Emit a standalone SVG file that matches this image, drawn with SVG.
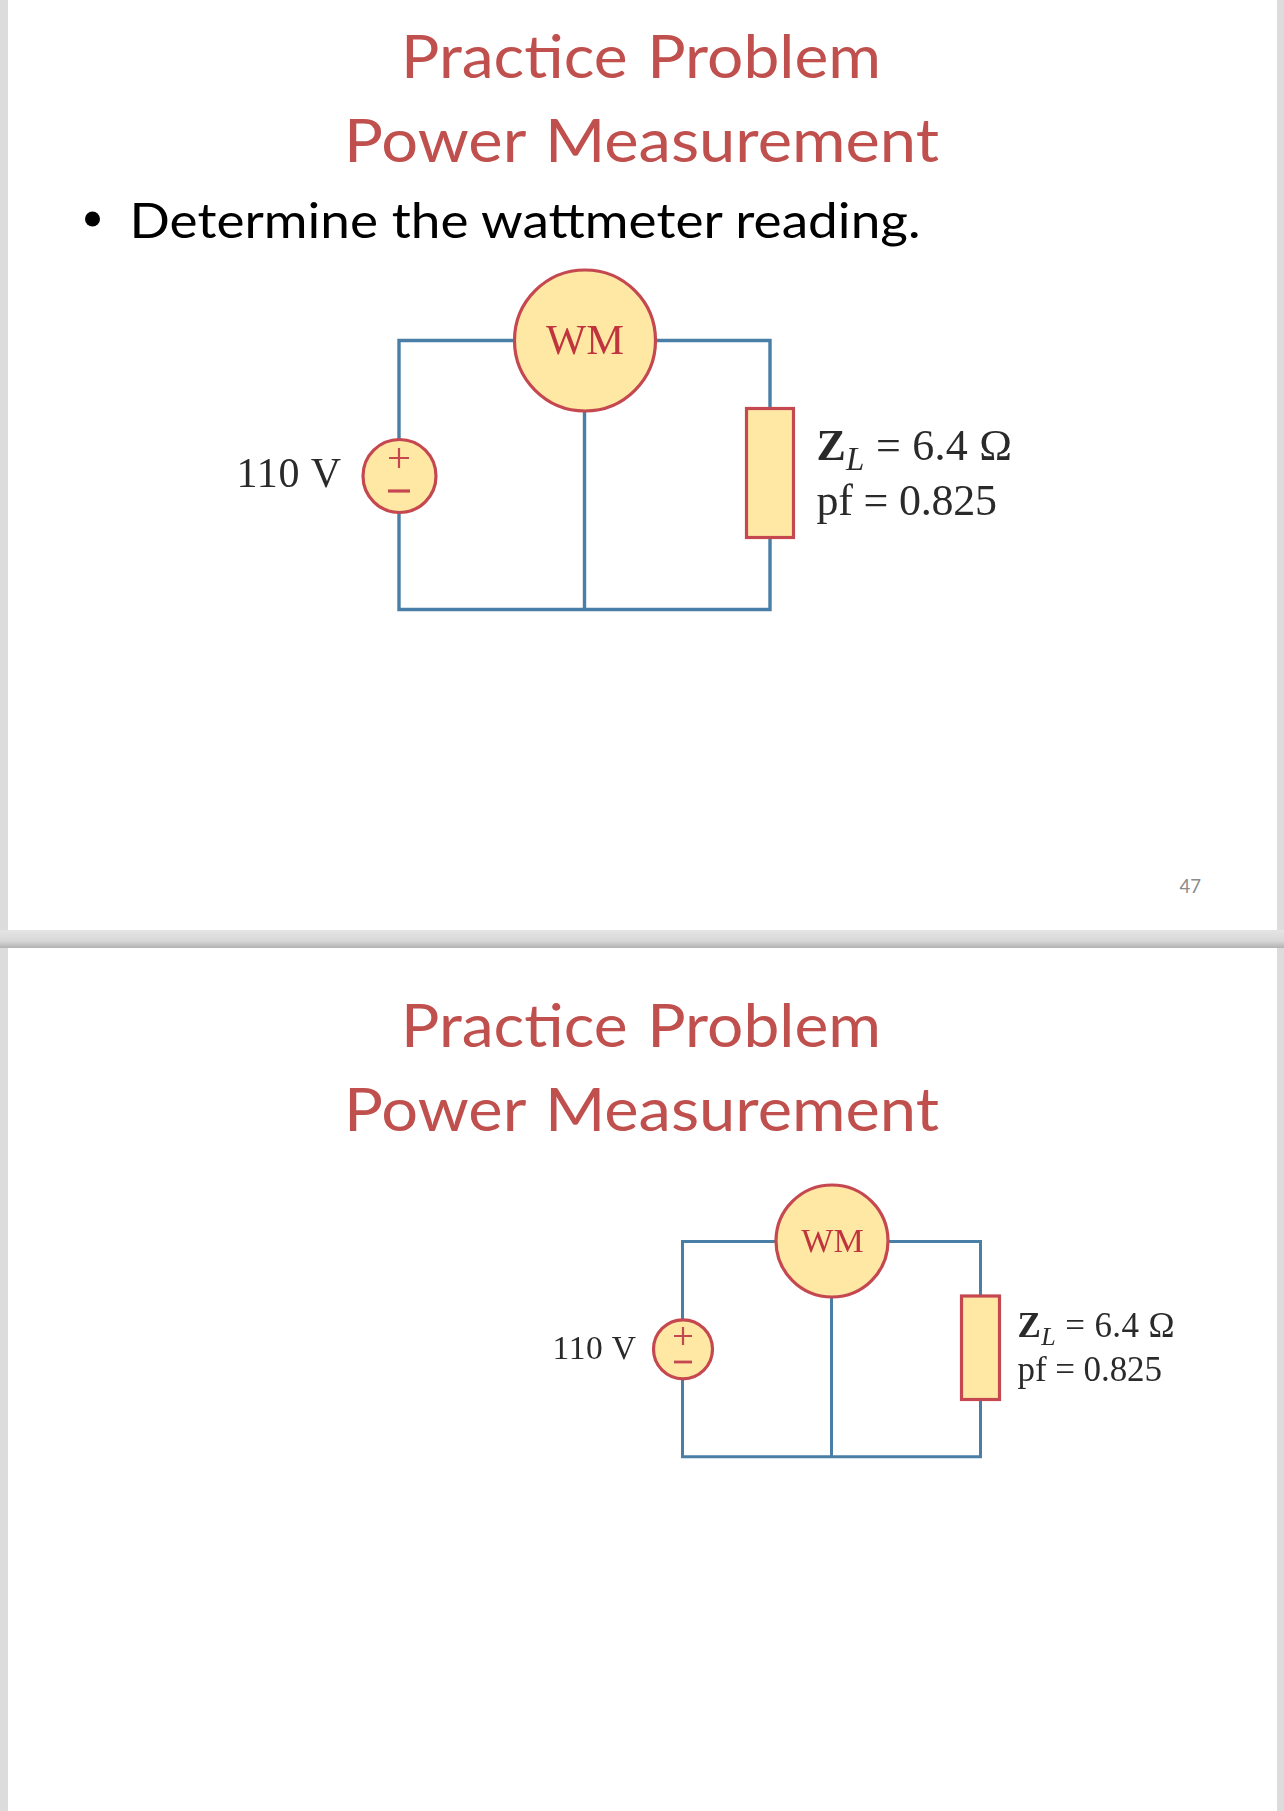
<svg xmlns="http://www.w3.org/2000/svg" width="1284" height="1811" viewBox="0 0 1284 1811">
<style>
.title{font-family:"Lato","Carlito","Liberation Sans",sans-serif;font-size:60px;fill:#c0504d;word-spacing:3px}
.body{font-family:"Lato","Carlito","Liberation Sans",sans-serif;fill:#000}
.pg{font-family:"Lato","Liberation Sans",sans-serif;font-size:19px;fill:#8b8b8b}
.lab{font-family:"Liberation Serif","Times New Roman",serif;fill:#2b2b2b}
.wm{font-family:"Liberation Serif","Times New Roman",serif;fill:#c0343c}
.w1{fill:none;stroke:#4a7fa7;stroke-width:3.4}
.w2{fill:none;stroke:#4a7fa7;stroke-width:3}
.el{fill:#fee8a4;stroke:#c5474f;stroke-width:3.2}
.sg{fill:none;stroke:#c5474f;stroke-width:2.2}
</style>
<defs>
<linearGradient id="gap" x1="0" y1="0" x2="0" y2="1">
<stop offset="0" stop-color="#e4e4e4"/><stop offset="0.6" stop-color="#d8d8d8"/><stop offset="1" stop-color="#b2b2b2"/>
</linearGradient>
<filter id="soft" x="-5%" y="-5%" width="110%" height="110%"><feGaussianBlur stdDeviation="0.7"/></filter>
</defs>
<rect width="1284" height="1811" fill="#dcdcdc"/>
<rect x="0" y="930" width="1284" height="18" fill="url(#gap)"/>
<g id="slide-1">
<rect x="8" y="0" width="1269" height="930" fill="#fff"/>
<text class="title" x="401" y="77.7" textLength="480" lengthAdjust="spacingAndGlyphs">Practice Problem</text>
<text class="title" x="344" y="161.7" textLength="595" lengthAdjust="spacingAndGlyphs">Power Measurement</text>
<circle cx="92.5" cy="219" r="7.5" fill="#000"/>
<text class="body" x="129.5" y="238.3" font-size="49" textLength="791" lengthAdjust="spacingAndGlyphs">Determine the wattmeter reading.</text>
<text class="pg" x="1179.5" y="893" textLength="21.5" lengthAdjust="spacingAndGlyphs">47</text>
</g>
<g id="slide-2">
<rect x="8" y="948" width="1269" height="863" fill="#fff"/>
<text class="title" x="401" y="1046.7" textLength="480" lengthAdjust="spacingAndGlyphs">Practice Problem</text>
<text class="title" x="344" y="1130.7" textLength="595" lengthAdjust="spacingAndGlyphs">Power Measurement</text>
</g>
<g filter="url(#soft)">
<g id="connectors-1">
<path class="w1" d="M399 476V340.5H770V609.5H399V476"/>
<path class="w1" d="M584.5 340V609.3"/>
</g>
<g id="wattmeter-1">
<ellipse class="el" cx="585" cy="340.5" rx="70.5" ry="70.5"/>
<text class="wm" x="585" y="354" font-size="42.5" text-anchor="middle">WM</text>
</g>
<g id="source-1">
<ellipse class="el" cx="399.5" cy="476" rx="36.5" ry="36.5"/>
<path class="sg" d="M389 458H409M399 448V468"/>
<path d="M388 491H410" fill="none" stroke="#c5474f" stroke-width="3.2"/>
<text class="lab" x="236.5" y="486.7" font-size="42" textLength="104.5" lengthAdjust="spacing">110 V</text>
</g>
<g id="load-1">
<rect class="el" x="746.5" y="408.5" width="47" height="129"/>
<text class="lab" x="816.5" y="460" font-size="44" textLength="195.5" lengthAdjust="spacing"><tspan font-weight="bold">Z</tspan><tspan font-style="italic" font-size="33" dy="10">L</tspan><tspan dy="-10"> = 6.4 Ω</tspan></text>
<text class="lab" x="816.5" y="515" font-size="44" textLength="180.5" lengthAdjust="spacing">pf = 0.825</text>
</g>
<g id="connectors-2">
<path class="w2" d="M682.5 1349V1241.5H980.5V1456.7H682.5V1349"/>
<path class="w2" d="M831.5 1241V1456.7"/>
</g>
<g id="wattmeter-2">
<ellipse class="el" cx="832" cy="1241" rx="56" ry="56"/>
<text class="wm" x="832.5" y="1252.3" font-size="34" text-anchor="middle">WM</text>
</g>
<g id="source-2">
<ellipse class="el" cx="683" cy="1349.3" rx="29.5" ry="29.5"/>
<path class="sg" d="M674 1336H692M683 1327V1345"/>
<path d="M674 1362H692" fill="none" stroke="#c5474f" stroke-width="2.8"/>
<text class="lab" x="552.5" y="1358.5" font-size="33.5" textLength="83.5" lengthAdjust="spacing">110 V</text>
</g>
<g id="load-2">
<rect class="el" x="961.5" y="1296" width="38" height="103.5"/>
<text class="lab" x="1017.5" y="1337" font-size="35" textLength="157" lengthAdjust="spacing"><tspan font-weight="bold">Z</tspan><tspan font-style="italic" font-size="26" dy="8">L</tspan><tspan dy="-8"> = 6.4 Ω</tspan></text>
<text class="lab" x="1017.5" y="1380.5" font-size="35" textLength="144.5" lengthAdjust="spacing">pf = 0.825</text>
</g>
</g>
</svg>
